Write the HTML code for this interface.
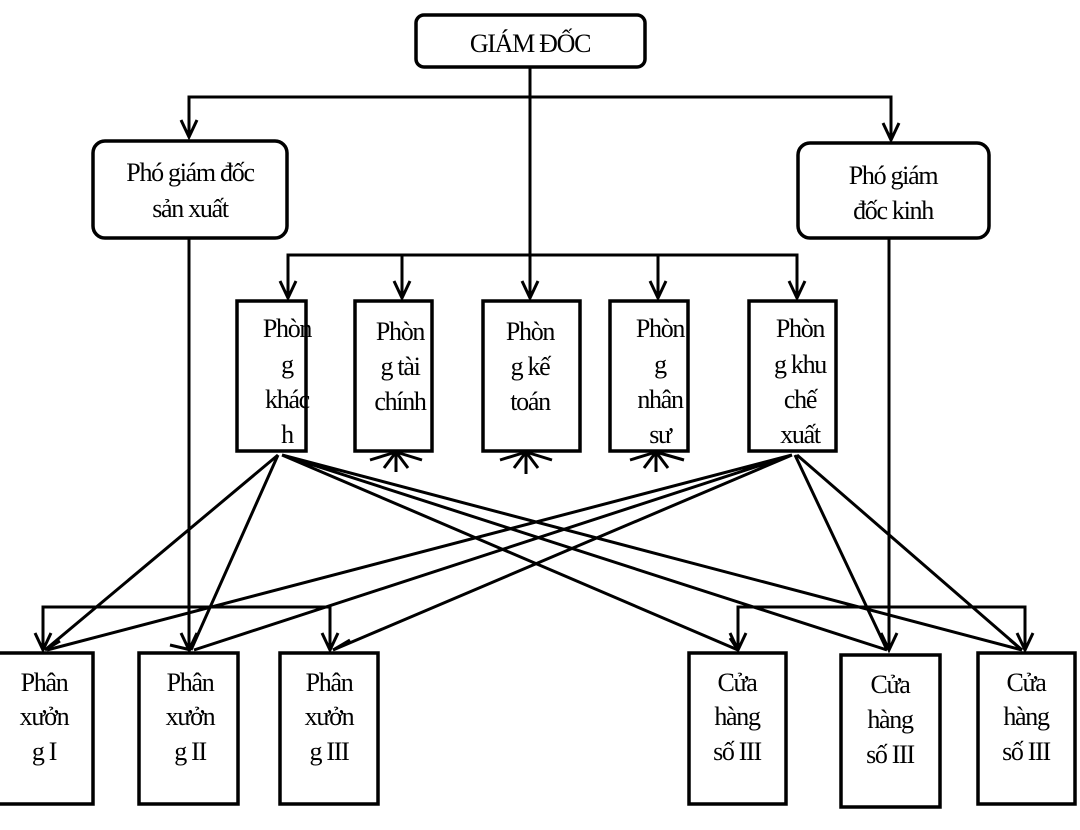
<!DOCTYPE html>
<html><head><meta charset="utf-8"><style>
html,body{margin:0;padding:0;background:#fff;}
svg{display:block}
text{font-family:"Liberation Serif",serif;font-size:26px;fill:#000;text-anchor:middle;letter-spacing:-1.3px}
</style></head><body>
<svg width="1080" height="830" viewBox="0 0 1080 830">
<g stroke="#000" stroke-width="3.5" fill="none">
<rect x="416" y="15" width="229" height="52" rx="8"/>
<rect x="93" y="141" width="194" height="97" rx="12"/>
<rect x="798" y="143" width="191" height="95" rx="12"/>
<rect x="237" y="301" width="69" height="150"/>
<rect x="355" y="301" width="77" height="150"/>
<rect x="483" y="301" width="97" height="150"/>
<rect x="610" y="301" width="78" height="150"/>
<rect x="749" y="301" width="87" height="150"/>
<rect x="-2" y="653" width="95" height="151"/>
<rect x="139" y="653" width="99" height="151"/>
<rect x="280" y="653" width="98" height="151"/>
<rect x="689" y="653" width="97" height="151"/>
<rect x="841" y="655" width="99" height="152"/>
<rect x="978" y="653" width="97" height="151"/>
</g>
<g stroke="#000" stroke-width="3" fill="none">
<path d="M530 67 V298"/>
<path d="M189 137 V97 H891 V140"/>
<path d="M288 297 V255 H797 V298"/>
<path d="M402 255 V298 M658 255 V298"/>
<path d="M189 238 V650"/>
<path d="M889 238 V650"/>
<path d="M43 650 V607 H330 V650"/>
<path d="M738 650 V607 H1025 V650"/>
<path d="M278 455 L45 650 M278 455 L191 650 M282 455 L738 650 M282 455 L887 650 M282 455 L1022 650"/>
<path d="M792 455 L47 650 M792 455 L194 650 M792 455 L333 650 M795 455 L887 650 M797 455 L1022 650"/>
</g>
<g stroke="#000" stroke-width="3" fill="none">
<path d="M181 120 L189 137 L197 120"/>
<path d="M883 123 L891 140 L899 123"/>
<path d="M280 281 L288 298 L296 281"/>
<path d="M394 281 L402 298 L410 281"/>
<path d="M522 281 L530 298 L538 281"/>
<path d="M650 281 L658 298 L666 281"/>
<path d="M789 281 L797 298 L805 281"/>
<path d="M35 633 L43 650 L51 633"/>
<path d="M181 633 L189 650 L197 633"/>
<path d="M322 633 L330 650 L338 633"/>
<path d="M730 633 L738 650 L746 633"/>
<path d="M881 633 L889 650 L897 633"/>
<path d="M1017 633 L1025 650 L1033 633"/>
<path d="M60 641 L45 650 M170 645 L191 650 M350 640 L333 650 M730 638 L738 650 M1010 640 L1022 650"/>
<path d="M396 452 L370 460 M396 452 L384 468 M396 452 L396 472 M396 452 L408 468 M396 452 L422 460"/>
<path d="M526 452 L500 460 M526 452 L514 468 M526 452 L526 474 M526 452 L538 468 M526 452 L552 460"/>
<path d="M656 452 L630 460 M656 452 L644 468 M656 452 L656 472 M656 452 L668 468 M656 452 L684 460"/>
</g>
<text x="530" y="52">GIÁM ĐỐC</text>
<text x="190" y="181">Phó giám đốc</text>
<text x="190" y="217">sản xuất</text>
<text x="893" y="184">Phó giám</text>
<text x="893" y="219">đốc kinh</text>
<text x="287" y="337">Phòn</text><text x="287" y="373">g</text><text x="287" y="408">khác</text><text x="287" y="443">h</text>
<text x="400" y="340">Phòn</text><text x="400" y="375">g tài</text><text x="400" y="410">chính</text>
<text x="530" y="340">Phòn</text><text x="530" y="375">g kế</text><text x="530" y="410">toán</text>
<text x="660" y="337">Phòn</text><text x="660" y="373">g</text><text x="660" y="408">nhân</text><text x="660" y="443">sư</text>
<text x="800" y="337">Phòn</text><text x="800" y="373">g khu</text><text x="800" y="408">chế</text><text x="800" y="443">xuất</text>
<text x="44" y="691">Phân</text><text x="44" y="725">xưởn</text><text x="44" y="760">g I</text>
<text x="190" y="691">Phân</text><text x="190" y="725">xưởn</text><text x="190" y="760">g II</text>
<text x="329" y="691">Phân</text><text x="329" y="725">xưởn</text><text x="329" y="760">g III</text>
<text x="737" y="691">Cửa</text><text x="737" y="725">hàng</text><text x="737" y="760">số III</text>
<text x="890" y="693">Cửa</text><text x="890" y="728">hàng</text><text x="890" y="763">số III</text>
<text x="1026" y="691">Cửa</text><text x="1026" y="725">hàng</text><text x="1026" y="760">số III</text>
</svg>
</body></html>
